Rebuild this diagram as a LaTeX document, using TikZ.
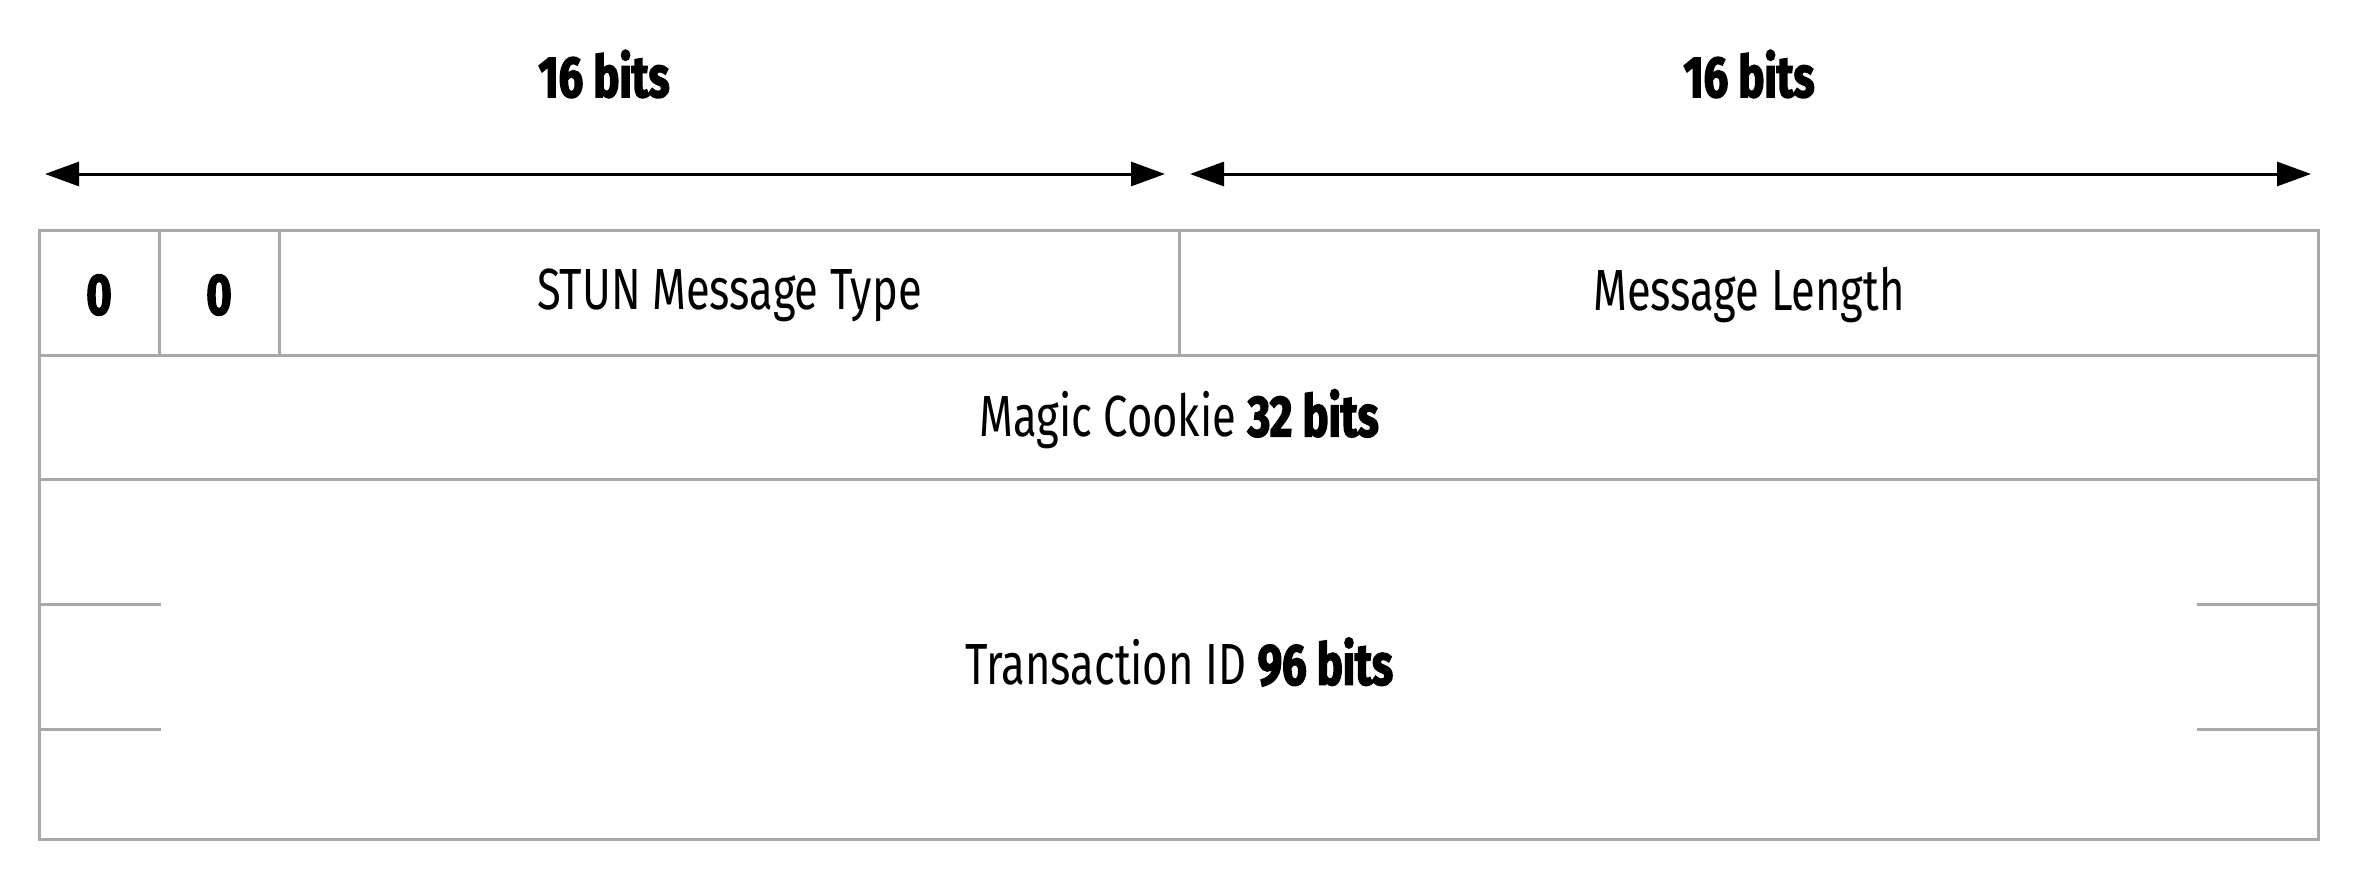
\documentclass[tikz,border=0pt]{standalone}
\usepackage{fontspec}
\setmainfont{Fira Sans}[FakeStretch=0.75, BoldFeatures={FakeBold=2.5}]
\usetikzlibrary{arrows.meta}
\definecolor{gridgray}{HTML}{A8A8A8}
\tikzset{
  grid/.style={draw=gridgray, line width=1.5pt},
  dimarrow/.style={draw=black, line width=1.5pt, {Triangle[length=17pt,width=12pt]}-{Triangle[length=17pt,width=12pt]}},
  lbl/.style={inner sep=0pt, font=\fontsize{29}{34}\selectfont, text=black},
  bolbl/.style={lbl, font=\fontsize{29}{34}\selectfont\bfseries}
}
\begin{document}
\begin{tikzpicture}[x=0.5pt,y=-0.5pt]
\useasboundingbox[fill=white] (0,0) rectangle (2356,894);
% dimension arrows
\coordinate (a1l) at (45,174);
\coordinate (a1r) at (1165,174);
\coordinate (a2l) at (1190,174);
\coordinate (a2r) at (2311,174);
\draw[dimarrow] (a1l) -- (a1r);
\draw[dimarrow] (a2l) -- (a2r);
\node[bolbl] (b1) at (604,74) {16 bits};
\node[bolbl] (b2) at (1749,74) {16 bits};
% table frame
\draw[grid] (39,230) rectangle (2318,839);
\draw[grid] (39,355) -- (2318,355);
\draw[grid] (39,479) -- (2318,479);
\draw[grid] (159,230) -- (159,355);
\draw[grid] (279.5,230) -- (279.5,355);
\draw[grid] (1179.5,230) -- (1179.5,355);
% transaction ID ticks
\draw[grid] (39,604) -- (161,604);
\draw[grid] (39,729) -- (161,729);
\draw[grid] (2197,604) -- (2318,604);
\draw[grid] (2197,729) -- (2318,729);
% labels
\node[bolbl] (z1) at (99,295) {0};
\node[bolbl] (z2) at (219,295) {0};
\node[lbl] (stun) at (729.5,295) {STUN Message Type};
\node[lbl] (len) at (1749,295) {Message Length};
\node[lbl] (magic) at (1179,419) {Magic Cookie \textbf{32 bits}};
\node[lbl] (tid) at (1179,662) {Transaction ID \textbf{96 bits}};
\end{tikzpicture}
\end{document}
